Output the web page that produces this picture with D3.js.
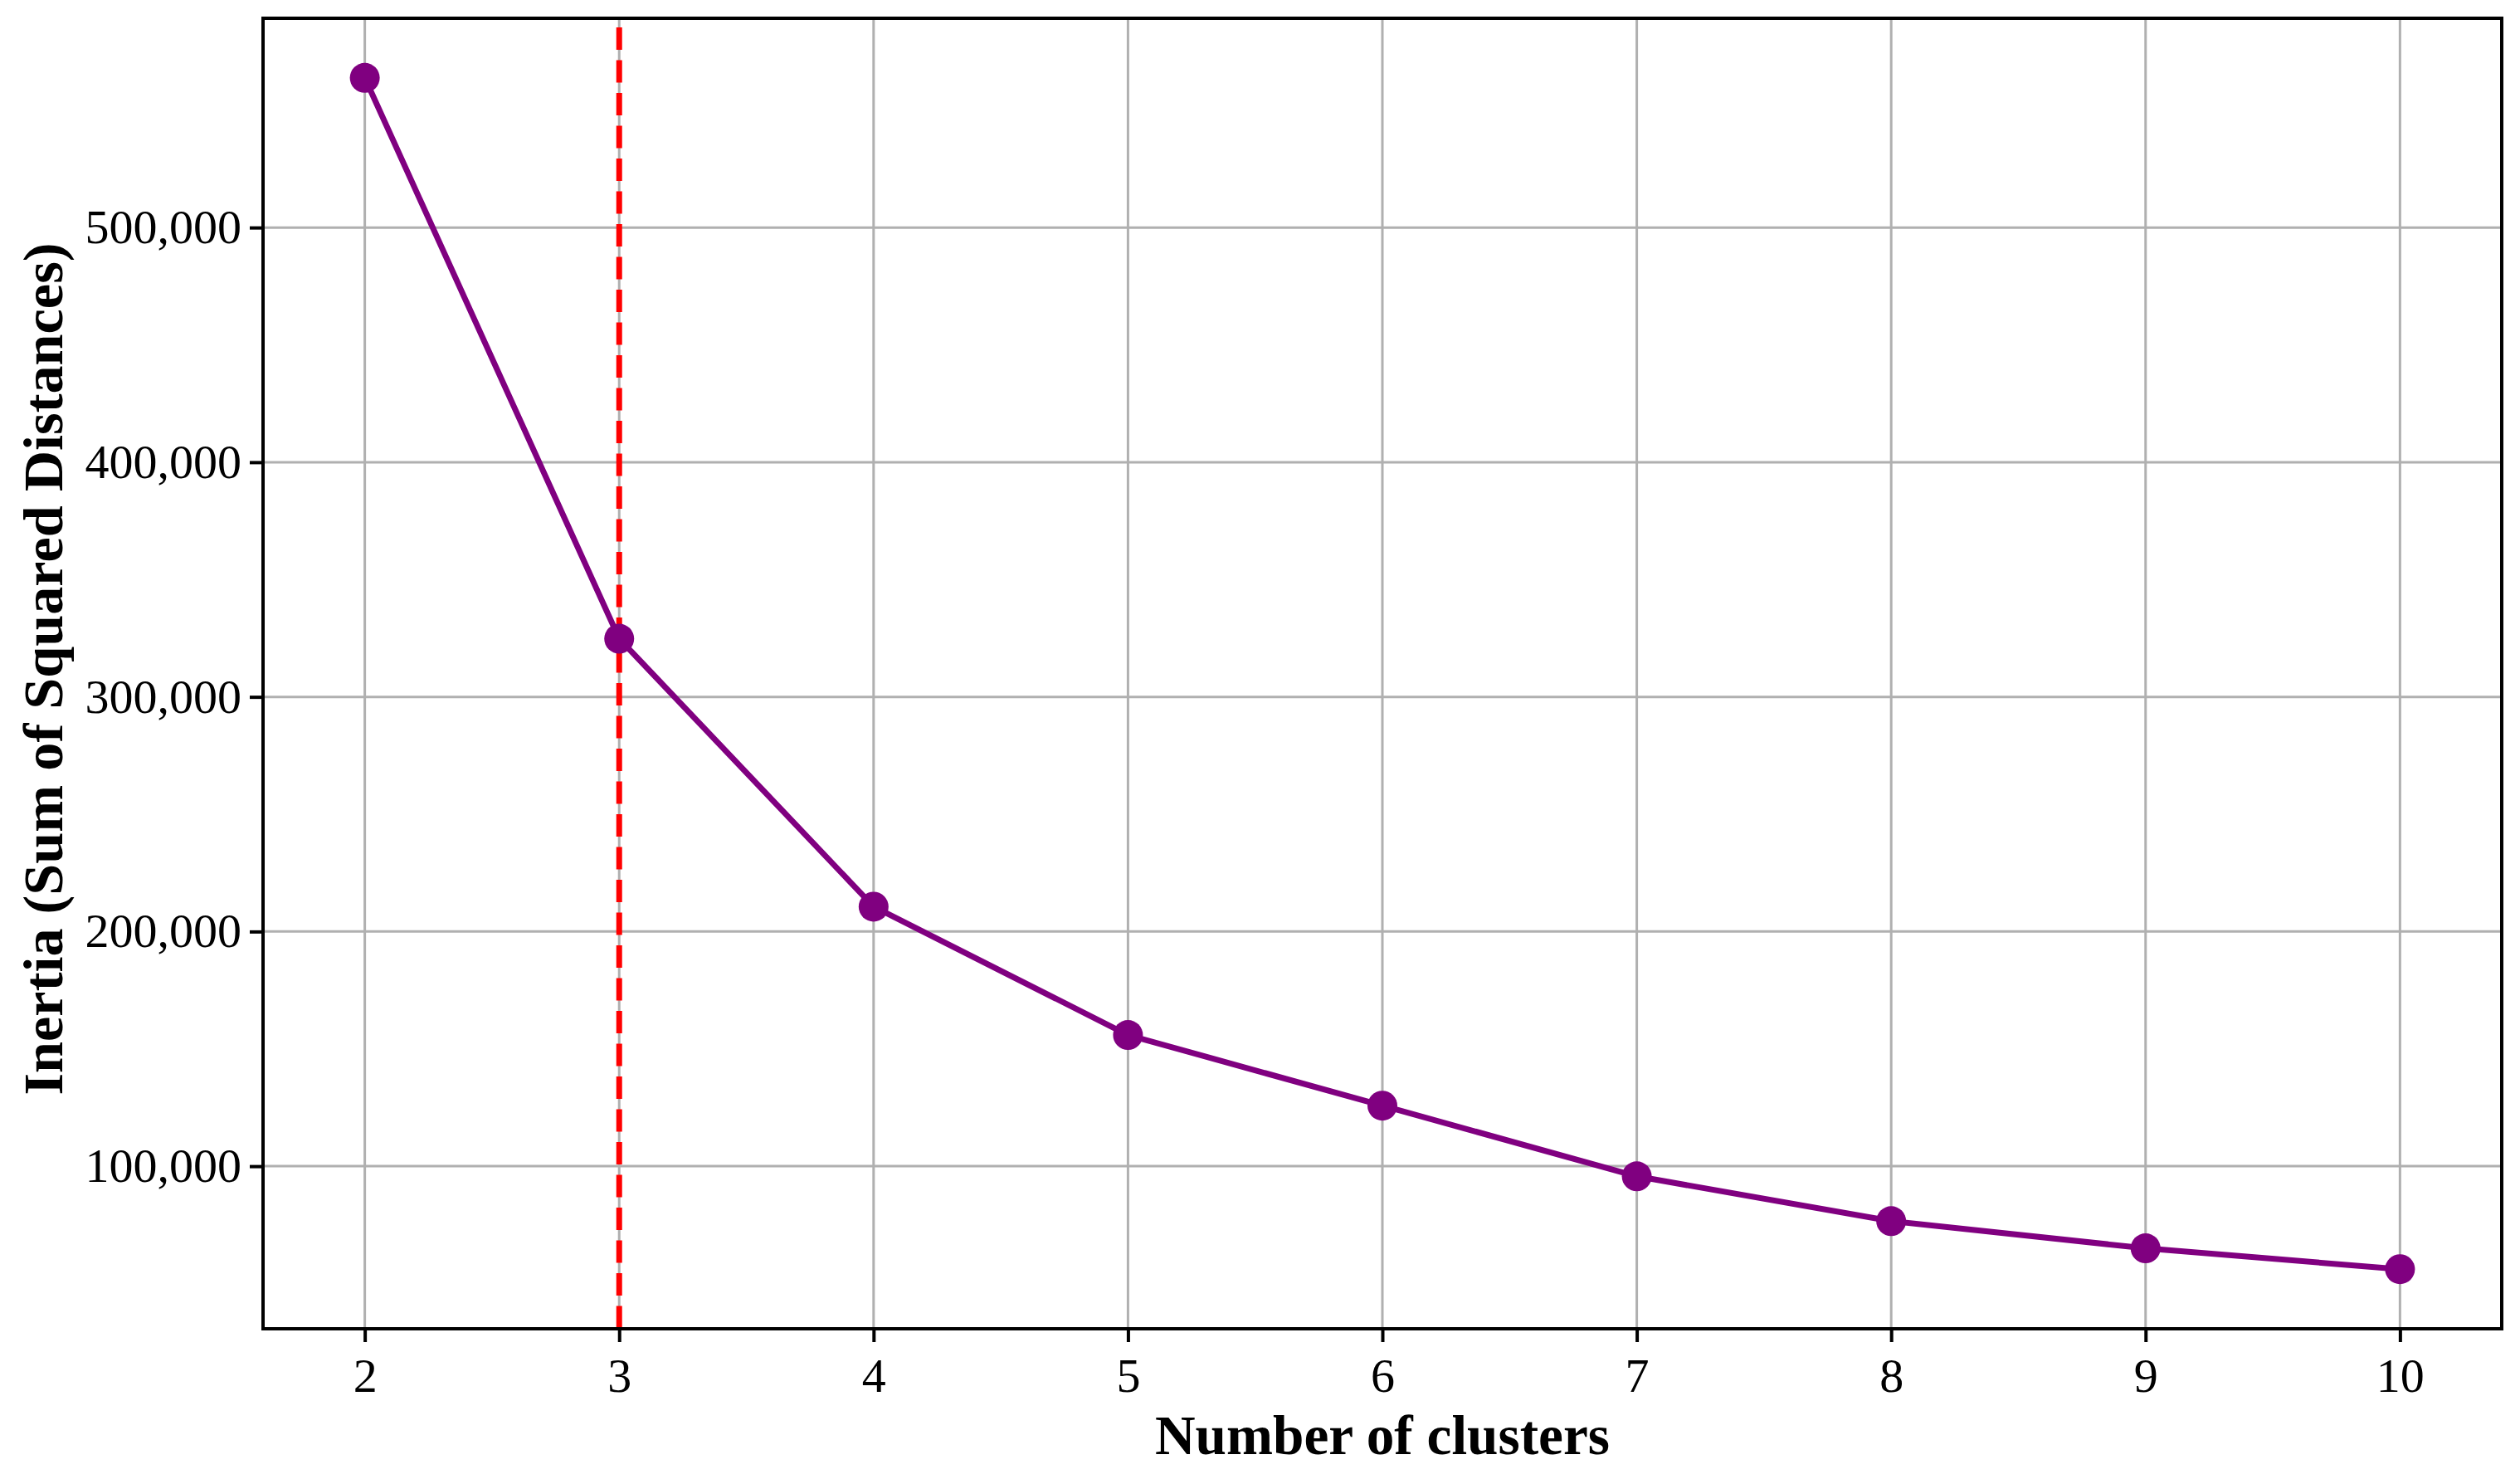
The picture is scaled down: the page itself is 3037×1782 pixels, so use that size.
<!DOCTYPE html>
<html>
    <head>
        <title>Elbow method</title>
        <script src="https://d3js.org/d3.v7.min.js"></script>
        <style>
            body {
                margin:0;
                background:white;
            }
            svg {
                display:block;
            }
            .tick text {
                font-family:"Liberation Serif", "Times New Roman", serif;
                font-size:58px;
                fill:black;
            }
            .axis-label {
                font-family:"Liberation Serif", "Times New Roman", serif;
                font-weight:bold;
                font-size:68px;
            }
        </style>
    </head>
    <body>
        <svg id="chart"></svg>
    </body>
    <script>

        // data
        const clusters = [2, 3, 4, 5, 6, 7, 8, 9, 10];
        const inertia = [563800, 324800, 210600, 155900, 125800, 95700, 76600, 65000, 56100];
        const yTicks = [100000, 200000, 300000, 400000, 500000];
        const elbowAt = 3;

        const width = 3037, height = 1782;
        const margin = {top:22, right:22, bottom:181, left:317};

        const svg = d3.select('#chart')
                      .attr('width', width)
                      .attr('height', height);

        // matplotlib style 5% padding around the data
        const xMin = d3.min(clusters), xMax = d3.max(clusters);
        const yMin = d3.min(inertia), yMax = d3.max(inertia);
        const xPad = (xMax - xMin) * 0.05, yPad = (yMax - yMin) * 0.05;

        const x = d3.scaleLinear()
                    .domain([xMin - xPad, xMax + xPad])
                    .range([margin.left, width - margin.right]);
        const y = d3.scaleLinear()
                    .domain([yMin - yPad, yMax + yPad])
                    .range([height - margin.bottom, margin.top]);

        // grid
        const grid = svg.append('g')
                        .attr('stroke', '#b0b0b0')
                        .attr('stroke-width', 3);
        grid.selectAll('.vg')
            .data(clusters)
            .join('line')
            .attr('x1', d => x(d)).attr('x2', d => x(d))
            .attr('y1', margin.top).attr('y2', height - margin.bottom);
        grid.selectAll('.hg')
            .data(yTicks)
            .join('line')
            .attr('y1', d => y(d)).attr('y2', d => y(d))
            .attr('x1', margin.left).attr('x2', width - margin.right);

        // elbow marker
        svg.append('line')
           .attr('x1', x(elbowAt)).attr('x2', x(elbowAt))
           .attr('y1', margin.top + 11)
           .attr('y2', height - margin.bottom)
           .attr('stroke', '#ff0000')
           .attr('stroke-width', 7)
           .attr('stroke-dasharray', '27 12.5');

        // line + points
        const pts = clusters.map((c, i) => [c, inertia[i]]);
        svg.append('path')
           .datum(pts)
           .attr('fill', 'none')
           .attr('stroke', '#800080')
           .attr('stroke-width', 7)
           .attr('stroke-linejoin', 'round')
           .attr('d', d3.line().x(d => x(d[0])).y(d => y(d[1])));

        svg.selectAll('.pt')
           .data(pts)
           .join('circle')
           .attr('cx', d => x(d[0]))
           .attr('cy', d => y(d[1]))
           .attr('r', 18)
           .attr('fill', '#800080');

        // axes
        const xAxis = svg.append('g')
                         .attr('transform', `translate(0,${height - margin.bottom})`)
                         .call(d3.axisBottom(x).tickValues(clusters).tickFormat(d3.format('d'))
                                 .tickSize(16).tickPadding(19));
        const yAxis = svg.append('g')
                         .attr('transform', `translate(${margin.left},0)`)
                         .call(d3.axisLeft(y).tickValues(yTicks).tickFormat(d3.format(','))
                                 .tickSize(16).tickPadding(10));
        [xAxis, yAxis].forEach(a => {
            a.select('.domain').remove();
            a.selectAll('.tick line').attr('stroke', 'black').attr('stroke-width', 4);
        });

        // frame
        svg.append('rect')
           .attr('x', margin.left)
           .attr('y', margin.top)
           .attr('width', width - margin.left - margin.right)
           .attr('height', height - margin.top - margin.bottom)
           .attr('fill', 'none')
           .attr('stroke', 'black')
           .attr('stroke-width', 4);

        // axis titles
        svg.append('text')
           .attr('class', 'axis-label')
           .attr('x', (margin.left + width - margin.right) / 2)
           .attr('y', 1752)
           .attr('text-anchor', 'middle')
           .attr('textLength', 548)
           .attr('lengthAdjust', 'spacingAndGlyphs')
           .text('Number of clusters');

        svg.append('text')
           .attr('class', 'axis-label')
           .attr('transform', 'translate(75,806) rotate(-90)')
           .attr('text-anchor', 'middle')
           .attr('textLength', 1027)
           .attr('lengthAdjust', 'spacingAndGlyphs')
           .text('Inertia (Sum of Squared Distances)');

    </script>
</html>
